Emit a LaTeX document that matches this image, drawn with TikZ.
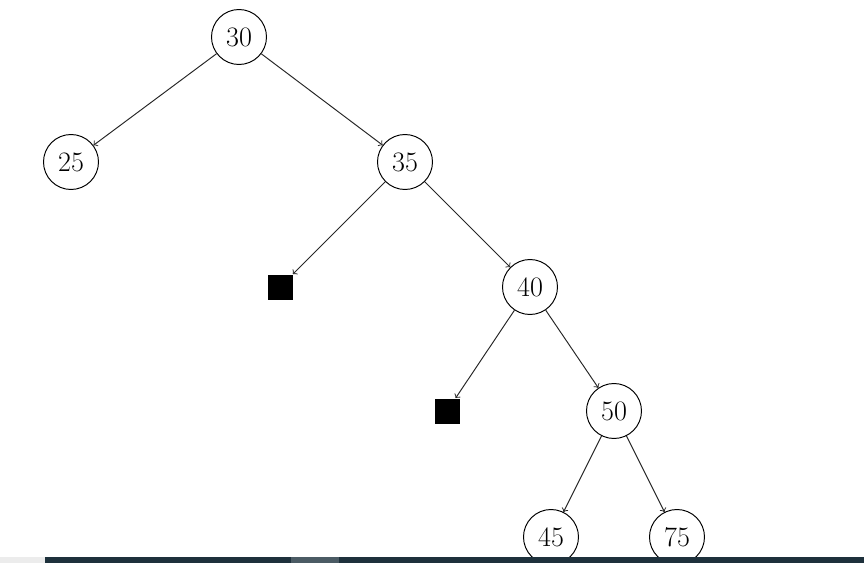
\documentclass[tikz,border=0pt]{standalone}
\usepackage{tikz}
\usetikzlibrary{positioning}
\usepackage{xcolor}
\definecolor{bardark}{HTML}{1E313C}
\definecolor{barlight}{HTML}{4B5B64}
\definecolor{barleft}{HTML}{ECECEC}

\tikzset{
  key/.style={draw,circle,line width=0.55pt,minimum size=1.1cm,inner sep=0pt,font=\fontsize{16}{18}\selectfont},
  leaf/.style={fill=black,minimum size=0.5cm,inner sep=0pt},
  link/.style={->,line width=0.55pt,draw=black!85}
}

\begin{document}
\begin{tikzpicture}[auto]
      \useasboundingbox (0,0) rectangle (17.28,-11.26);

      \node[key] (key 30) at (4.78,-0.74) {30};
      \node[key] (key 25) at (1.42,-3.24) {25};
      \node[key] (key 35) at (8.10,-3.24) {35};
      \node[leaf] (nil 1) at (5.60,-5.74) {};
      \node[key] (key 40) at (10.60,-5.74) {40};
      \node[leaf] (nil 2) at (8.94,-8.22) {};
      \node[key] (key 50) at (12.28,-8.22) {50};
      \node[key] (key 45) at (11.02,-10.74) {45};
      \node[key] (key 75) at (13.54,-10.74) {75};

      \draw[link] (key 30) -- (key 25);
      \draw[link] (key 30) -- (key 35);
      \draw[link] (key 35) -- (nil 1);
      \draw[link] (key 35) -- (key 40);
      \draw[link] (key 40) -- (nil 2);
      \draw[link] (key 40) -- (key 50);
      \draw[link] (key 50) -- (key 45);
      \draw[link] (key 50) -- (key 75);

      % bar along the bottom edge
      \fill[barleft] (0,-11.14) rectangle (0.9,-11.26);
      \fill[bardark] (0.9,-11.14) rectangle (17.28,-11.26);
      \fill[barlight] (5.82,-11.14) rectangle (6.77,-11.26);
    \end{tikzpicture}
\end{document}
